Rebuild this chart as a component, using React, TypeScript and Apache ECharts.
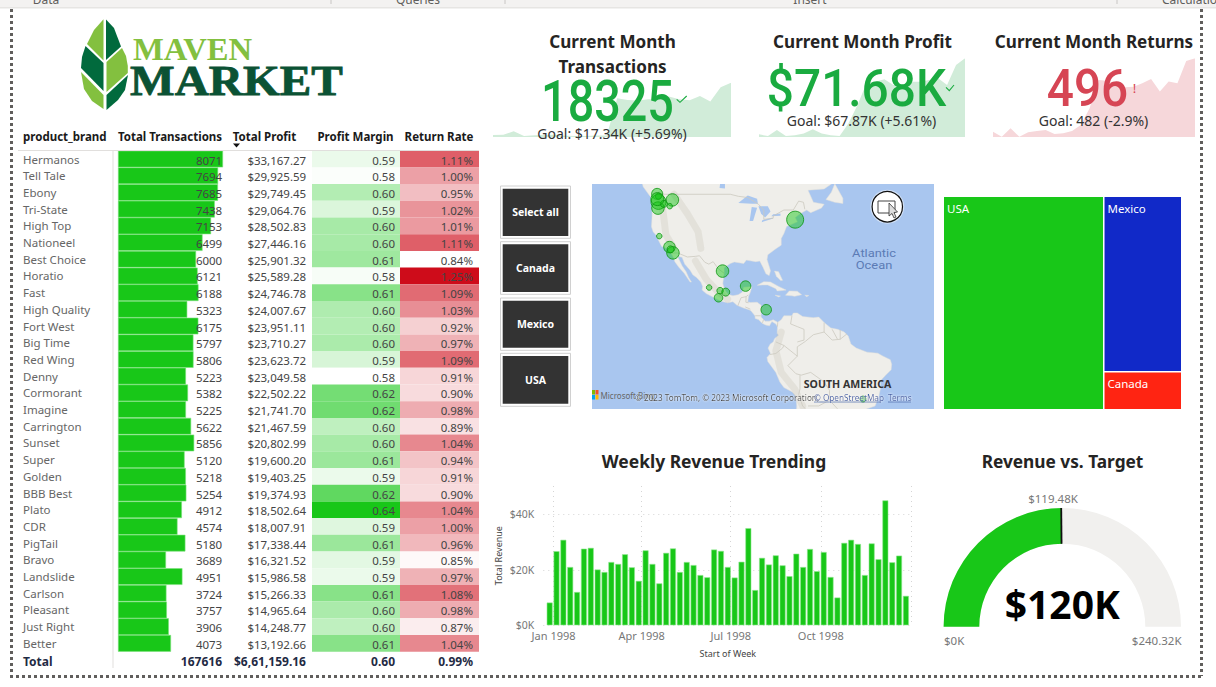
import React, { useEffect, useRef } from "react";
import * as echarts from "echarts";

const FONT = '"Noto Sans", sans-serif';
const GREEN = "#18C718";

// ---------- table ----------
const brands = ["Hermanos","Tell Tale","Ebony","Tri-State","High Top","Nationeel","Best Choice","Horatio","Fast","High Quality","Fort West","Big Time","Red Wing","Denny","Cormorant","Imagine","Carrington","Sunset","Super","Golden","BBB Best","Plato","CDR","PigTail","Bravo","Landslide","Carlson","Pleasant","Just Right","Better"];
const transactions = [8071,7694,7685,7438,7153,6499,6000,6121,6188,5323,6175,5797,5806,5223,5382,5225,5622,5856,5120,5218,5254,4912,4574,5180,3689,4951,3724,3757,3906,4073];
const profits = ["$33,167.27","$29,925.59","$29,749.45","$29,064.76","$28,502.83","$27,446.16","$25,901.32","$25,589.28","$24,746.78","$24,007.67","$23,951.11","$23,710.27","$23,623.72","$23,049.58","$22,502.22","$21,741.70","$21,467.59","$20,802.99","$19,600.20","$19,403.25","$19,374.93","$18,502.64","$18,007.91","$17,338.44","$16,321.52","$15,986.58","$15,266.33","$14,965.64","$14,248.77","$13,192.66"];
const margins = [0.587,0.583,0.601,0.591,0.604,0.604,0.606,0.584,0.612,0.602,0.601,0.603,0.592,0.582,0.617,0.618,0.598,0.604,0.607,0.587,0.622,0.640,0.590,0.607,0.589,0.587,0.612,0.603,0.598,0.612];
const returnRates = [1.11,1.00,0.95,1.02,1.01,1.11,0.84,1.25,1.09,1.03,0.92,0.97,1.09,0.91,0.90,0.98,0.89,1.04,0.94,0.91,0.90,1.04,1.00,0.96,0.85,0.97,1.08,0.98,0.87,1.04];
const tableHeaders = ["product_brand","Total Transactions","Total Profit","Profit Margin","Return Rate"];
const tableTotals = ["Total","167616","$6,61,159.16","0.60","0.99%"];

// ---------- KPI ----------
const sparkTransactions = [670,740,1910,335,570,670,740,400,335,335,500,500,13065,12500,12290,12730,12730,13630,12730,12400,13840,11960,16750,18325];
const sparkProfit = [2.4,0.9,6.4,0.9,1.5,3.3,7.0,3.3,1.5,0.9,12.5,29.2,48.9,50.4,52.5,47.4,47.4,50.4,50.4,51.9,53.4,47.4,65.6,71.68];
const sparkReturns = [33.6,2.1,54.6,2.1,29.4,37.8,44.1,18.9,23.1,37.8,75.6,180.6,359,355,338,313,317,338,365,286,349,338,479,496];

// ---------- weekly ----------
const weeklyRevenue = [8.2,26.7,30.8,21.0,12.0,27.6,27.9,20.1,19.2,22.8,22.1,25.6,20.9,16.0,27.0,22.1,15.1,26.1,27.7,19.2,22.8,21.7,18.1,17.3,27.3,26.8,21.0,17.2,22.9,35.0,12.7,24.3,21.9,25.2,21.6,17.7,25.8,21.0,27.5,19.5,26.4,17.4,10.0,29.7,30.8,29.3,18.1,29.5,23.8,45.0,22.7,25.1,10.6];
const firstWeek = Date.UTC(1997, 11, 28);
const DAY = 86400000;
const monthNames = ["Jan","Feb","Mar","Apr","May","Jun","Jul","Aug","Sep","Oct","Nov","Dec"];

// ---------- treemap / gauge ----------
const countries = ["USA","Mexico","Canada"];
const countryShare = [66.9,26.7,5.8];
const countryColors = ["#18C718","#1129C8","#FF2412"];
const gaugeRevenue = 119.9;
const gaugeTarget = 119.48;
const gaugeMax = 240.32;

// ---------- map (lon, lat) ----------
const stores: number[][] = [
  [-122.3,49.1,11],[-121.8,47.1,15],[-122,45.5,12.5],[-116.6,47.6,12.5],[-119.8,46.6,7],[-117.6,46,5.5],
  [-121.8,48.5,6],[-122.2,47.8,13],[-121.5,37.7,5.5],[-117.7,34.4,11.5],[-116.4,32.6,12.5],[-117.3,33.7,7],[-97.9,26.7,12.5],
  [-89.3,21.6,10.5],[-81.6,13.2,10.5],[-102.9,21.1,5.5],[-98.8,20,6.5],[-96.7,19.5,8],[-99.4,17.5,8.5],
  [-70.8,42.4,17],[-45.5,-19.6,6],
];
const mainland: number[][] = [
  [-130,56],[-128,52],[-127.5,50.8],[-125,48.6],[-124.7,48.4],[-124.1,46.5],[-124.2,43],[-124.4,40.4],[-123.8,39],[-122.5,37.8],[-121.9,36.6],[-120.6,34.6],[-118.5,34],[-117.2,32.7],[-116,30.8],[-115.7,29.8],[-114.2,28],[-112.2,26],[-110,23],[-109.5,23],[-110.5,24.5],[-111.5,26.5],[-113,28.5],[-114.7,31.5],[-113,31.2],[-112,29],[-110,27],[-109,25.5],[-107.5,24.5],[-106,23],[-105.3,21.5],[-105.5,20.2],[-104,19],[-102,18],[-100,17],[-98,16.2],[-96,15.7],[-94,16.1],[-92.5,14.8],[-90,13.8],[-88,13.2],[-87.3,12.8],[-85.8,11],[-85.7,10],[-84.5,9.6],[-83.2,8.3],[-81.8,7.6],[-80.4,7.3],[-79.5,8.9],[-78,8],[-77.5,7.2],[-77.4,6.7],[-77.5,4.5],[-77,3.8],[-78.5,2.5],[-79,1.3],[-80.1,0.5],[-80.9,-1],[-80,-3],[-81.3,-4.5],[-81,-6],[-79.5,-8],[-78,-10],[-76.5,-13.5],[-75,-15.5],[-72,-17],[-70.5,-18.5],[-70.2,-22],[-70.5,-26],[-48,-26],[-48.5,-25],[-46,-24],[-44,-23],[-41,-22],[-39.7,-19],[-39,-16],[-38.9,-13],[-37,-11],[-35,-9],[-34.8,-7],[-35.3,-5.3],[-38,-4],[-40,-2.9],[-44,-2.5],[-48,-1],[-50,0.5],[-51,3.5],[-52.5,5],[-55,6],[-57.5,6.5],[-60,8.5],[-62,10.5],[-64,10.3],[-68,10.7],[-70,12],[-71.5,12],[-72,11],[-75,11],[-76,9.5],[-77.3,8.6],[-79,9.5],[-80.5,9],[-82,9],[-83.5,10.5],[-83.5,14.8],[-85,15.9],[-87.5,15.8],[-88.5,16],[-88.2,18],[-87.5,19.5],[-87,21.4],[-90,21.2],[-90.5,19.5],[-92,18.6],[-94,18.2],[-95.8,18.7],[-97.2,20.5],[-97.8,22.5],[-97.3,26],[-97.3,27.8],[-95,29.2],[-93.5,29.7],[-90,29.2],[-89,30.3],[-85.5,29.8],[-84,30],[-82.8,28],[-81.7,25.8],[-80.5,25.2],[-80,26.8],[-81.3,30.5],[-81,32],[-78,33.9],[-76,35],[-76,37],[-75,38.5],[-74,40.5],[-71,41.5],[-70,41.8],[-70.8,43],[-69,44],[-66.5,45],[-65,44.3],[-61,45.5],[-60,46.5],[-64,47],[-65,48.5],[-66,50],[-60,50.3],[-56,52],[-56,60],[-130,60],
];
const newfoundland: number[][] = [[-59.3,47.7],[-57.3,49.5],[-56,51.5],[-53,48],[-53,46.7],[-56,47]];
const cuba: number[][] = [[-84.9,21.9],[-82.5,23.1],[-80,23],[-77,21.5],[-74.2,20.2],[-77.5,19.9],[-78,20.7],[-81,22],[-83,22]];
const hispaniola: number[][] = [[-74.4,18.4],[-73,19.9],[-70,19.8],[-68.4,18.6],[-71,18],[-72,18.2]];
const jamaica: number[][] = [[-78.3,18.4],[-76.3,18.1],[-77,17.8]];
const puertoRico: number[][] = [[-67.2,18.4],[-65.7,18.3],[-66.5,17.9]];
const bahamas: number[][] = [[-78.5,26.7],[-77,26.5],[-75.5,23.6],[-76.2,23.5],[-77.8,25]];
const landPolygons = [mainland, newfoundland, cuba, hispaniola, jamaica, puertoRico, bahamas];
const lakes: number[][][] = [
  [[-92,46.8],[-88.5,48.7],[-85,47.9],[-84.7,46.6],[-87,46.6]],
  [[-87.8,42],[-86.5,42],[-85,45.6],[-87,45.8]],
  [[-84.5,46],[-81,46],[-80,44.6],[-82,43],[-83.5,44]],
  [[-83.3,41.7],[-79,42.7],[-79.4,42.9],[-83,42.3]],
  [[-79.7,43.3],[-76.3,43.5],[-76.3,44.1],[-79,43.9]],
  [[-99,50.5],[-97,50.4],[-97,51.5],[-98.8,51.5]],
];
const borders: number[][][] = [
  [[-123,49],[-95,49],[-92,48.5],[-88.5,48.2],[-84.5,46.5],[-82.5,45],[-82.5,42.5],[-79,42.8],[-79,43.4],[-75,45],[-71.5,45],[-69.5,47.3],[-67.7,47],[-67.2,45.2]],
  [[-117,32.5],[-114.7,32.6],[-111,31.3],[-108,31.5],[-106.5,31.7],[-104.5,29.6],[-103,29],[-101.4,29.8],[-99.5,27.5],[-97.2,25.9]],
  [[-92.2,14.6],[-91,17.5],[-89.1,17.9],[-88.3,18.5]],
  [[-89.1,17.9],[-89.2,15.9],[-88.2,15.7]],
  [[-89.4,14.2],[-87.5,13.4]],
  [[-85.7,11],[-83.7,11]],
  [[-83,8.4],[-82.6,9.6]],
  [[-77.3,8.6],[-77.4,7]],
  [[-72,11],[-72.5,8],[-70,7],[-67.5,6],[-67.5,2],[-70,1.3]],
  [[-60,8.5],[-60,5],[-64,4],[-67,1.5],[-70,-0.5],[-70,-4],[-73.5,-7.5],[-70.5,-10.5],[-68.5,-11],[-65,-10],[-60,-13.5],[-58,-16.5],[-58,-20],[-55,-23]],
  [[-60,5],[-57,2],[-54,2.3],[-51.5,4.3]],
  [[-57,6],[-55,2.3]],
  [[-54,5.8],[-54,2.3]],
  [[-80.3,-3.4],[-78,-3],[-75.5,-1],[-75,0],[-78,1.3]],
  [[-75,0],[-70,-4]],
  [[-69,-11],[-69,-16],[-69.5,-18]],
  [[-69.5,-18],[-68,-22],[-67,-23]],
  [[-58,-20],[-62,-22],[-66,-22]],
];
const ridges: number[][][] = [
  [[-121,49],[-120,44],[-119,38],[-116,34]],
  [[-116,49],[-111,44],[-107,39],[-106,34]],
  [[-108,30],[-104,24],[-100,20],[-96,17]],
  [[-76,5],[-78,-2],[-76,-10],[-71,-16],[-68,-22]],
];

function merc(lat: number) {
  return (Math.log(Math.tan(Math.PI / 4 + (lat * Math.PI) / 360)) * 180) / Math.PI;
}

// ---------- helpers ----------
function txt(x: number, y: number, text: string, o: any = {}) {
  return {
    type: "text", x, y, z: 50, scaleX: o.scaleX ?? 1, silent: true,
    style: {
      text, fill: o.color ?? "#252423", fontSize: o.size ?? 12, fontWeight: o.weight ?? "normal",
      fontFamily: o.family ?? FONT, align: o.align ?? "center", verticalAlign: "middle",
      stroke: o.stroke, lineWidth: o.lw ?? 0, textShadowColor: o.halo, textShadowBlur: o.halo ? 2 : 0,
    },
  };
}
function rect(x: number, y: number, w: number, h: number, fill: string, extra: any = {}) {
  return { type: "rect", z: extra.z ?? 40, silent: true, shape: { x, y, width: w, height: h }, style: { fill, stroke: extra.stroke, lineWidth: extra.lw ?? 0 } };
}
function line(x1: number, y1: number, x2: number, y2: number, stroke: string, lw = 1, dash?: number[]) {
  return { type: "line", z: 40, silent: true, shape: { x1, y1, x2, y2 }, style: { stroke, lineWidth: lw, lineDash: dash } };
}
function poly(points: number[][], fill: string) {
  return { type: "polygon", z: 40, silent: true, shape: { points }, style: { fill } };
}
function check(points: number[][], stroke: string) {
  return { type: "polyline", z: 50, silent: true, shape: { points }, style: { stroke, lineWidth: 1.1, fill: "none" } };
}
function mix(t: number, stops: number[][]) {
  const k = Math.max(0, Math.min(1, t));
  const a = stops[0], b = stops[1];
  return `rgb(${a.map((c, i) => Math.round(c + (b[i] - c) * k)).join(",")})`;
}
const marginColor = (v: number) => mix((v - 0.582) / (0.64 - 0.582), [[255,255,255],[24,199,24]]);
const returnColor = (v: number) => mix((v - 0.84) / (1.25 - 0.84), [[255,255,255],[206,12,26]]);

function cellSeries(gridIndex: number, labels: string[], pad: number, colorOf?: (i: number) => string) {
  return {
    type: "custom", xAxisIndex: gridIndex, yAxisIndex: gridIndex, z: 5, silent: true,
    encode: { x: 0, y: 1 },
    data: labels.map((_, i) => [0, i]),
    renderItem: (params: any, api: any) => {
      const i = params.dataIndex;
      const cs = params.coordSys;
      const cy = api.coord([0, api.value(1)])[1];
      const h = api.size([0, 1])[1];
      const children: any[] = [];
      if (colorOf) children.push({ type: "rect", shape: { x: cs.x, y: cy - h / 2, width: cs.width, height: h }, style: { fill: colorOf(i) } });
      children.push({ type: "text", style: { x: cs.x + cs.width - pad, y: cy + 1, text: labels[i], align: "right", verticalAlign: "middle", fill: "#444", fontSize: 11.5, fontFamily: FONT } });
      return { type: "group", children };
    },
  };
}
function mapShapes(shapes: number[][][], kind: "polygon" | "polyline", style: any, z: number) {
  return {
    type: "custom", xAxisIndex: 7, yAxisIndex: 7, z, silent: true, clip: true,
    encode: { x: 0, y: 1 },
    data: shapes.map((s) => [s[0][0], merc(s[0][1])]),
    renderItem: (params: any, api: any) => ({
      type: kind,
      shape: { points: shapes[params.dataIndex].map((p) => api.coord([p[0], merc(p[1])])) },
      style: { ...style },
    }),
  };
}
function sparkSeries(idx: number, values: number[], color: string) {
  return {
    type: "line", xAxisIndex: idx, yAxisIndex: idx, data: values, symbol: "none", z: 2, silent: true,
    lineStyle: { width: 0 }, areaStyle: { color, opacity: 1 },
  };
}

const hiddenValue = (gridIndex: number, min: number, max: number) => ({ type: "value", gridIndex, min, max, show: false });
const hiddenBrand = (gridIndex: number) => ({ type: "category", gridIndex, data: brands, inverse: true, show: false });
const sparkX = (gridIndex: number, values: number[]) => ({ type: "category", gridIndex, data: values.map((_, i) => i), boundaryGap: false, show: false });

function buildOption() {
  const g: any[] = [];
  // top ribbon
  g.push(rect(0, 0, 1216, 7, "#F3F2F1"), rect(0, 7, 1216, 1.5, "#E6E5E3"));
  [331, 505, 1117].forEach((x) => g.push(line(x, 0, x, 4, "#C8C6C4")));
  g.push(
    txt(46, -1, "Data", { size: 12, color: "#605E5C" }),
    txt(418, -1, "Queries", { size: 12, color: "#605E5C" }),
    txt(810, -1, "Insert", { size: 12, color: "#605E5C" }),
    txt(1162, -1, "Calculations", { size: 12, color: "#605E5C", align: "left" })
  );
  // dotted frame
  g.push(line(11.5, 9, 11.5, 676, "#605E5C", 3, [3, 3]), line(10, 676.5, 1202, 676.5, "#605E5C", 3, [3, 3]), line(1201.5, 9, 1201.5, 676, "#605E5C", 3, [3, 3]));
  // logo
  g.push(
    poly([[103.5,19.3],[94,30],[87,44],[103.5,60.5]], "#83C03F"),
    poly([[106,19.5],[114,28],[121,46.5],[106,60]], "#016A3D"),
    poly([[85.5,46],[103.5,63],[103.5,91],[81,68],[82,57]], "#016A3D"),
    poly([[106.5,62],[122,48],[126,56],[127.8,66],[127.8,73],[106.5,92]], "#83C03F"),
    poly([[81,72],[103.5,95],[103.5,109],[92,101],[84,89]], "#83C03F"),
    poly([[106.5,95],[128,75],[125,90],[118,100],[106.5,110]], "#016A3D"),
    txt(133, 49.5, "MAVEN", { align: "left", size: 32, weight: "bold", family: '"Liberation Serif", serif', color: "#83C03F", scaleX: 1.02 }),
    txt(130, 81, "MARKET", { align: "left", size: 43, weight: "bold", family: '"Liberation Serif", serif', color: "#0B5234", scaleX: 1.1, stroke: "#0B5234", lw: 0.8 })
  );
  // table chrome
  const hdr = { size: 12, weight: "bold", color: "#1a1a1a", scaleX: 0.96 };
  g.push(
    txt(23, 136, tableHeaders[0], { ...hdr, align: "left" }),
    txt(170, 136, tableHeaders[1], hdr),
    txt(264.5, 136, tableHeaders[2], hdr),
    txt(355.5, 136, tableHeaders[3], hdr),
    txt(439, 136, tableHeaders[4], hdr),
    poly([[233,143.5],[240,143.5],[236.5,147.5]], "#111"),
    line(18, 150.5, 478, 150.5, "#E1DFDD", 1),
    line(113, 151, 113, 668, "#E1DFDD", 1)
  );
  const tot = { size: 12, weight: "bold", color: "#1f2a44", align: "right" };
  g.push(
    txt(23, 661, tableTotals[0], { ...tot, align: "left" }),
    txt(222, 661, tableTotals[1], tot),
    txt(306, 661, tableTotals[2], tot),
    txt(395, 661, tableTotals[3], tot),
    txt(473, 661, tableTotals[4], tot)
  );
  // KPI cards
  const title = { size: 18, weight: "bold", color: "#252423", scaleX: 0.95 };
  const digits = { family: "Roboto, sans-serif", weight: 500 };
  g.push(
    txt(612.5, 41, "Current Month", title),
    txt(612.5, 66, "Transactions", title),
    txt(862.5, 41, "Current Month Profit", title),
    txt(1094, 41, "Current Month Returns", title),
    txt(607.5, 101.5, "18325", { ...digits, size: 57, color: "#1AAB40", scaleX: 0.82 }),
    txt(856.5, 88.5, "$71.68K", { ...digits, size: 52, color: "#1AAB40", scaleX: 0.92 }),
    txt(1087.5, 88.5, "496", { ...digits, size: 52, color: "#D64554", scaleX: 0.92 }),
    txt(1134.5, 88, "!", { size: 13, color: "#D64554" }),
    check([[676.7,99.3],[680,102.3],[686.7,96]], "#1AAB40"),
    check([[946,87.3],[949.3,90.7],[954,85]], "#1AAB40"),
    txt(612, 133.5, "Goal: $17.34K (+5.69%)", { size: 14, color: "#333" }),
    txt(861.5, 120.7, "Goal: $67.87K (+5.61%)", { size: 14, color: "#333" }),
    txt(1093.5, 120.7, "Goal: 482 (-2.9%)", { size: 14, color: "#333" })
  );
  // slicer buttons
  [["Select all",186,238.3,188.7,236],["Canada",241.7,294.3,244.3,292],["Mexico",298,350.3,300.7,347.7],["USA",353.3,406.3,356,403.7]].forEach((b: any) => {
    g.push(
      rect(500.5, b[1], 70, b[2] - b[1], "#fff", { stroke: "#D0D0D0", lw: 1 }),
      rect(502.7, b[3], 65.6, b[4] - b[3], "#333333"),
      txt(535.5, (b[3] + b[4]) / 2, b[0], { size: 10.5, weight: "bold", color: "#fff" })
    );
  });
  // map furniture
  g.push(
    txt(874, 253, "Atlantic", { size: 11.5, color: "#5B7BB5", family: "Roboto, sans-serif", scaleX: 1.12 }),
    txt(874, 265.5, "Ocean", { size: 11.5, color: "#5B7BB5", family: "Roboto, sans-serif", scaleX: 1.12 }),
    txt(847.5, 384, "SOUTH AMERICA", { size: 9.8, weight: "bold", color: "#333", scaleX: 1.08 }),
    rect(592, 390, 3, 4.5, "#7FBA00"), rect(595.5, 390, 3, 4.5, "#F25022"),
    rect(592, 395, 3, 4.5, "#00A4EF"), rect(595.5, 395, 3, 4.5, "#FFB900"),
    txt(600.5, 395, "Microsoft Bing", { size: 8, color: "#666", align: "left" }),
    txt(635, 397.5, "© 2023 TomTom, © 2023 Microsoft Corporation,", { size: 8.2, color: "#444", align: "left", halo: "#fff" }),
    txt(814, 397.5, "© OpenStreetMap", { size: 8.2, color: "#3F5FA8", align: "left", halo: "#fff" }),
    line(814, 402, 881, 402, "#3F5FA8", 0.7),
    txt(888, 397.5, "Terms", { size: 8.2, color: "#3F5FA8", align: "left", halo: "#fff" }),
    line(888, 402, 911, 402, "#3F5FA8", 0.7),
    { type: "circle", z: 40, silent: true, shape: { cx: 887.3, cy: 206.7, r: 17 }, style: { fill: "rgba(255,255,255,0.45)" } },
    { type: "circle", z: 41, silent: true, shape: { cx: 887.3, cy: 206.7, r: 15.2 }, style: { fill: "#fff", stroke: "#111", lineWidth: 1.2 } },
    { type: "rect", z: 42, silent: true, shape: { x: 878, y: 201, width: 17, height: 12 }, style: { fill: "#fff", stroke: "#444", lineWidth: 1 } },
    { type: "polygon", z: 43, silent: true, shape: { points: [[889,203],[889,216],[892,213.5],[894,218],[896,217],[894,212.5],[897.5,212]] }, style: { fill: "#ddd", stroke: "#333", lineWidth: 0.8 } }
  );
  // section titles
  g.push(
    txt(714, 461, "Weekly Revenue Trending", { size: 18, weight: "bold", scaleX: 0.97 }),
    txt(1062.5, 461, "Revenue vs. Target", { size: 18, weight: "bold", scaleX: 0.96 })
  );
  // gauge labels
  g.push(
    txt(1053, 498.5, "$119.48K", { size: 11.5, color: "#777" }),
    txt(944, 640, "$0K", { size: 11.5, color: "#777", align: "left" }),
    txt(1181.5, 640, "$240.32K", { size: 11.5, color: "#777", align: "right" })
  );

  return {
    animation: false,
    useUTC: true,
    backgroundColor: "#fff",
    textStyle: { fontFamily: FONT },
    graphic: { elements: g },
    grid: [
      { left: 118, top: 150.7, width: 105, height: 501 },
      { left: 230, top: 150.7, width: 77, height: 501 },
      { left: 312, top: 150.7, width: 88, height: 501 },
      { left: 400, top: 150.7, width: 79, height: 501 },
      { left: 493, top: 82.7, width: 238, height: 54.3 },
      { left: 759, top: 58.3, width: 206, height: 78.7 },
      { left: 993, top: 58.3, width: 202, height: 78.7 },
      { left: 592, top: 184, width: 342, height: 225 },
      { left: 543.3, top: 486, width: 369, height: 139.3 },
    ],
    xAxis: [
      hiddenValue(0, 0, 8071),
      hiddenValue(1, 0, 1),
      hiddenValue(2, 0, 1),
      hiddenValue(3, 0, 1),
      sparkX(4, sparkTransactions),
      sparkX(5, sparkProfit),
      sparkX(6, sparkReturns),
      hiddenValue(7, -146.6, -19),
      {
        type: "time", gridIndex: 8, min: firstWeek - 3.5 * DAY, max: firstWeek + 52 * 7 * DAY + 3.5 * DAY,
        splitNumber: 4,
        name: "Start of Week", nameLocation: "middle", nameGap: 24,
        nameTextStyle: { fontSize: 9, color: "#444", fontFamily: FONT },
        axisLine: { show: false }, axisTick: { show: false },
        axisLabel: {
          color: "#777", fontSize: 11, fontFamily: FONT, margin: 5, showMinLabel: false, showMaxLabel: false,
          hideOverlap: false,
          formatter: (v: number) => {
            const d = new Date(v);
            return d.getUTCFullYear() === 1998 && d.getUTCDate() === 1 && d.getUTCMonth() % 3 === 0 ? `${monthNames[d.getUTCMonth()]} ${d.getUTCFullYear()}` : "";
          },
        },
        splitLine: { show: true, showMinLine: false, showMaxLine: false, lineStyle: { color: "#D5D5D5", type: [1, 4] } },
      },
    ],
    yAxis: [
      {
        type: "category", gridIndex: 0, data: brands, inverse: true,
        axisLine: { show: false }, axisTick: { show: false },
        axisLabel: { interval: 0, align: "left", margin: 95, color: "#666", fontSize: 11.5, fontFamily: FONT, padding: [4, 0, 0, 0] },
      },
      hiddenBrand(1),
      hiddenBrand(2),
      hiddenBrand(3),
      hiddenValue(4, 0, 18325),
      hiddenValue(5, 0, 71.68),
      hiddenValue(6, 0, 496),
      hiddenValue(7, -23.7, 60.2),
      {
        type: "value", gridIndex: 8, min: 0, max: 50200, interval: 20000,
        name: "Total Revenue", nameLocation: "middle", nameGap: 40,
        nameTextStyle: { fontSize: 9, color: "#444", fontFamily: FONT },
        axisLine: { show: false }, axisTick: { show: false },
        axisLabel: { color: "#777", fontSize: 10.5, fontFamily: FONT, margin: 9, showMaxLabel: false, formatter: (v: number) => `$${v / 1000}K` },
        splitLine: { show: true, showMaxLine: false, lineStyle: { color: "#D5D5D5", type: [1, 4] } },
      },
    ],
    series: [
      {
        type: "bar", xAxisIndex: 0, yAxisIndex: 0, data: transactions, barWidth: "100%", silent: true, z: 2,
        itemStyle: { color: GREEN, borderColor: "#7BE07B", borderWidth: 0.6 },
      },
      cellSeries(0, transactions.map(String), 0.8),
      cellSeries(1, profits, 0.8),
      cellSeries(2, margins.map((v) => v.toFixed(2)), 5, (i) => marginColor(margins[i])),
      cellSeries(3, returnRates.map((v) => v.toFixed(2) + "%"), 6, (i) => returnColor(returnRates[i])),
      sparkSeries(4, sparkTransactions, "#D1ECD9"),
      sparkSeries(5, sparkProfit, "#D1ECD9"),
      sparkSeries(6, sparkReturns, "#F6D7DA"),
      // map
      {
        type: "custom", xAxisIndex: 7, yAxisIndex: 7, z: 1, silent: true,
        data: [[-146.6, -23.7]], encode: { x: 0, y: 1 },
        renderItem: (params: any) => ({ type: "rect", shape: { x: params.coordSys.x, y: params.coordSys.y, width: params.coordSys.width, height: params.coordSys.height }, style: { fill: "#A9C6EF" } }),
      },
      mapShapes(landPolygons, "polygon", { fill: "#EFEEEA", stroke: "#E2E1DB", lineWidth: 0.5 }, 2),
      mapShapes(ridges, "polyline", { fill: "none", stroke: "rgba(185,180,165,0.22)", lineWidth: 7, lineCap: "round", lineJoin: "round" }, 3),
      mapShapes(lakes, "polygon", { fill: "#A9C6EF" }, 3),
      mapShapes(borders, "polyline", { fill: "none", stroke: "#CCC9BF", lineWidth: 0.8 }, 3),
      {
        type: "scatter", xAxisIndex: 7, yAxisIndex: 7, z: 6, silent: true,
        data: stores.map((s) => [s[0], merc(s[1]), s[2]]),
        symbolSize: (v: number[]) => v[2],
        itemStyle: { color: "rgba(24,199,24,0.6)", borderColor: "#0B9410", borderWidth: 1 },
      },
      // weekly revenue
      {
        type: "bar", xAxisIndex: 8, yAxisIndex: 8, barWidth: 5.9, silent: true,
        data: weeklyRevenue.map((v, i) => [firstWeek + i * 7 * DAY, v * 1000]),
        itemStyle: { color: GREEN, borderColor: "#8EE88E", borderWidth: 0.6 },
      },
      // treemap
      {
        type: "treemap", left: 944, top: 197, width: 237, height: 212, roam: false, nodeClick: false, silent: true,
        breadcrumb: { show: false }, squareRatio: 0.5,
        label: { show: true, position: "insideTopLeft", color: "#fff", fontSize: 11.5, fontWeight: "normal", fontFamily: FONT, formatter: "{b}", padding: [5, 3] },
        itemStyle: { gapWidth: 1.5, borderWidth: 0, borderColor: "#fff" },
        levels: [{ itemStyle: { gapWidth: 1.5, borderWidth: 0, borderColor: "#fff" } }],
        data: countries.map((name, i) => ({ name, value: countryShare[i], itemStyle: { color: countryColors[i] } })),
      },
      // gauge
      {
        type: "gauge", center: [1062.3, 626.7], radius: 118.7, startAngle: 180, endAngle: 0, min: 0, max: gaugeMax, silent: true,
        axisLine: { lineStyle: { width: 35.7, color: [[1, "#F1F0EE"]] } },
        progress: { show: true, width: 35.7, itemStyle: { color: GREEN } },
        pointer: { show: false }, axisTick: { show: false }, splitLine: { show: false }, axisLabel: { show: false },
        title: { show: false },
        detail: {
          show: true, offsetCenter: [0, -23], fontSize: 39, fontWeight: "bold", color: "#000", fontFamily: FONT,
          formatter: (v: number) => `$${Math.round(v)}K`,
        },
        data: [{ value: gaugeRevenue }],
      },
      {
        type: "gauge", center: [1062.3, 626.7], radius: 118.7, startAngle: 180, endAngle: 0, min: 0, max: gaugeMax, silent: true, z: 4,
        axisLine: { show: false }, progress: { show: false }, axisTick: { show: false }, splitLine: { show: false }, axisLabel: { show: false },
        title: { show: false }, detail: { show: false },
        pointer: { show: true, icon: "rect", length: 35.7, width: 1.8, offsetCenter: [0, -83] },
        itemStyle: { color: "#111" },
        data: [{ value: gaugeTarget }],
      },
    ],
  };
}

export default function App() {
  const ref = useRef<HTMLDivElement>(null);
  useEffect(() => {
    if (!ref.current) return;
    const chart = echarts.init(ref.current, undefined, { renderer: "svg" });
    chart.setOption(buildOption() as any);
    return () => chart.dispose();
  }, []);
  return <div ref={ref} style={{ position: "fixed", left: 0, top: 0, width: 1216, height: 687, background: "#fff" }} />;
}
